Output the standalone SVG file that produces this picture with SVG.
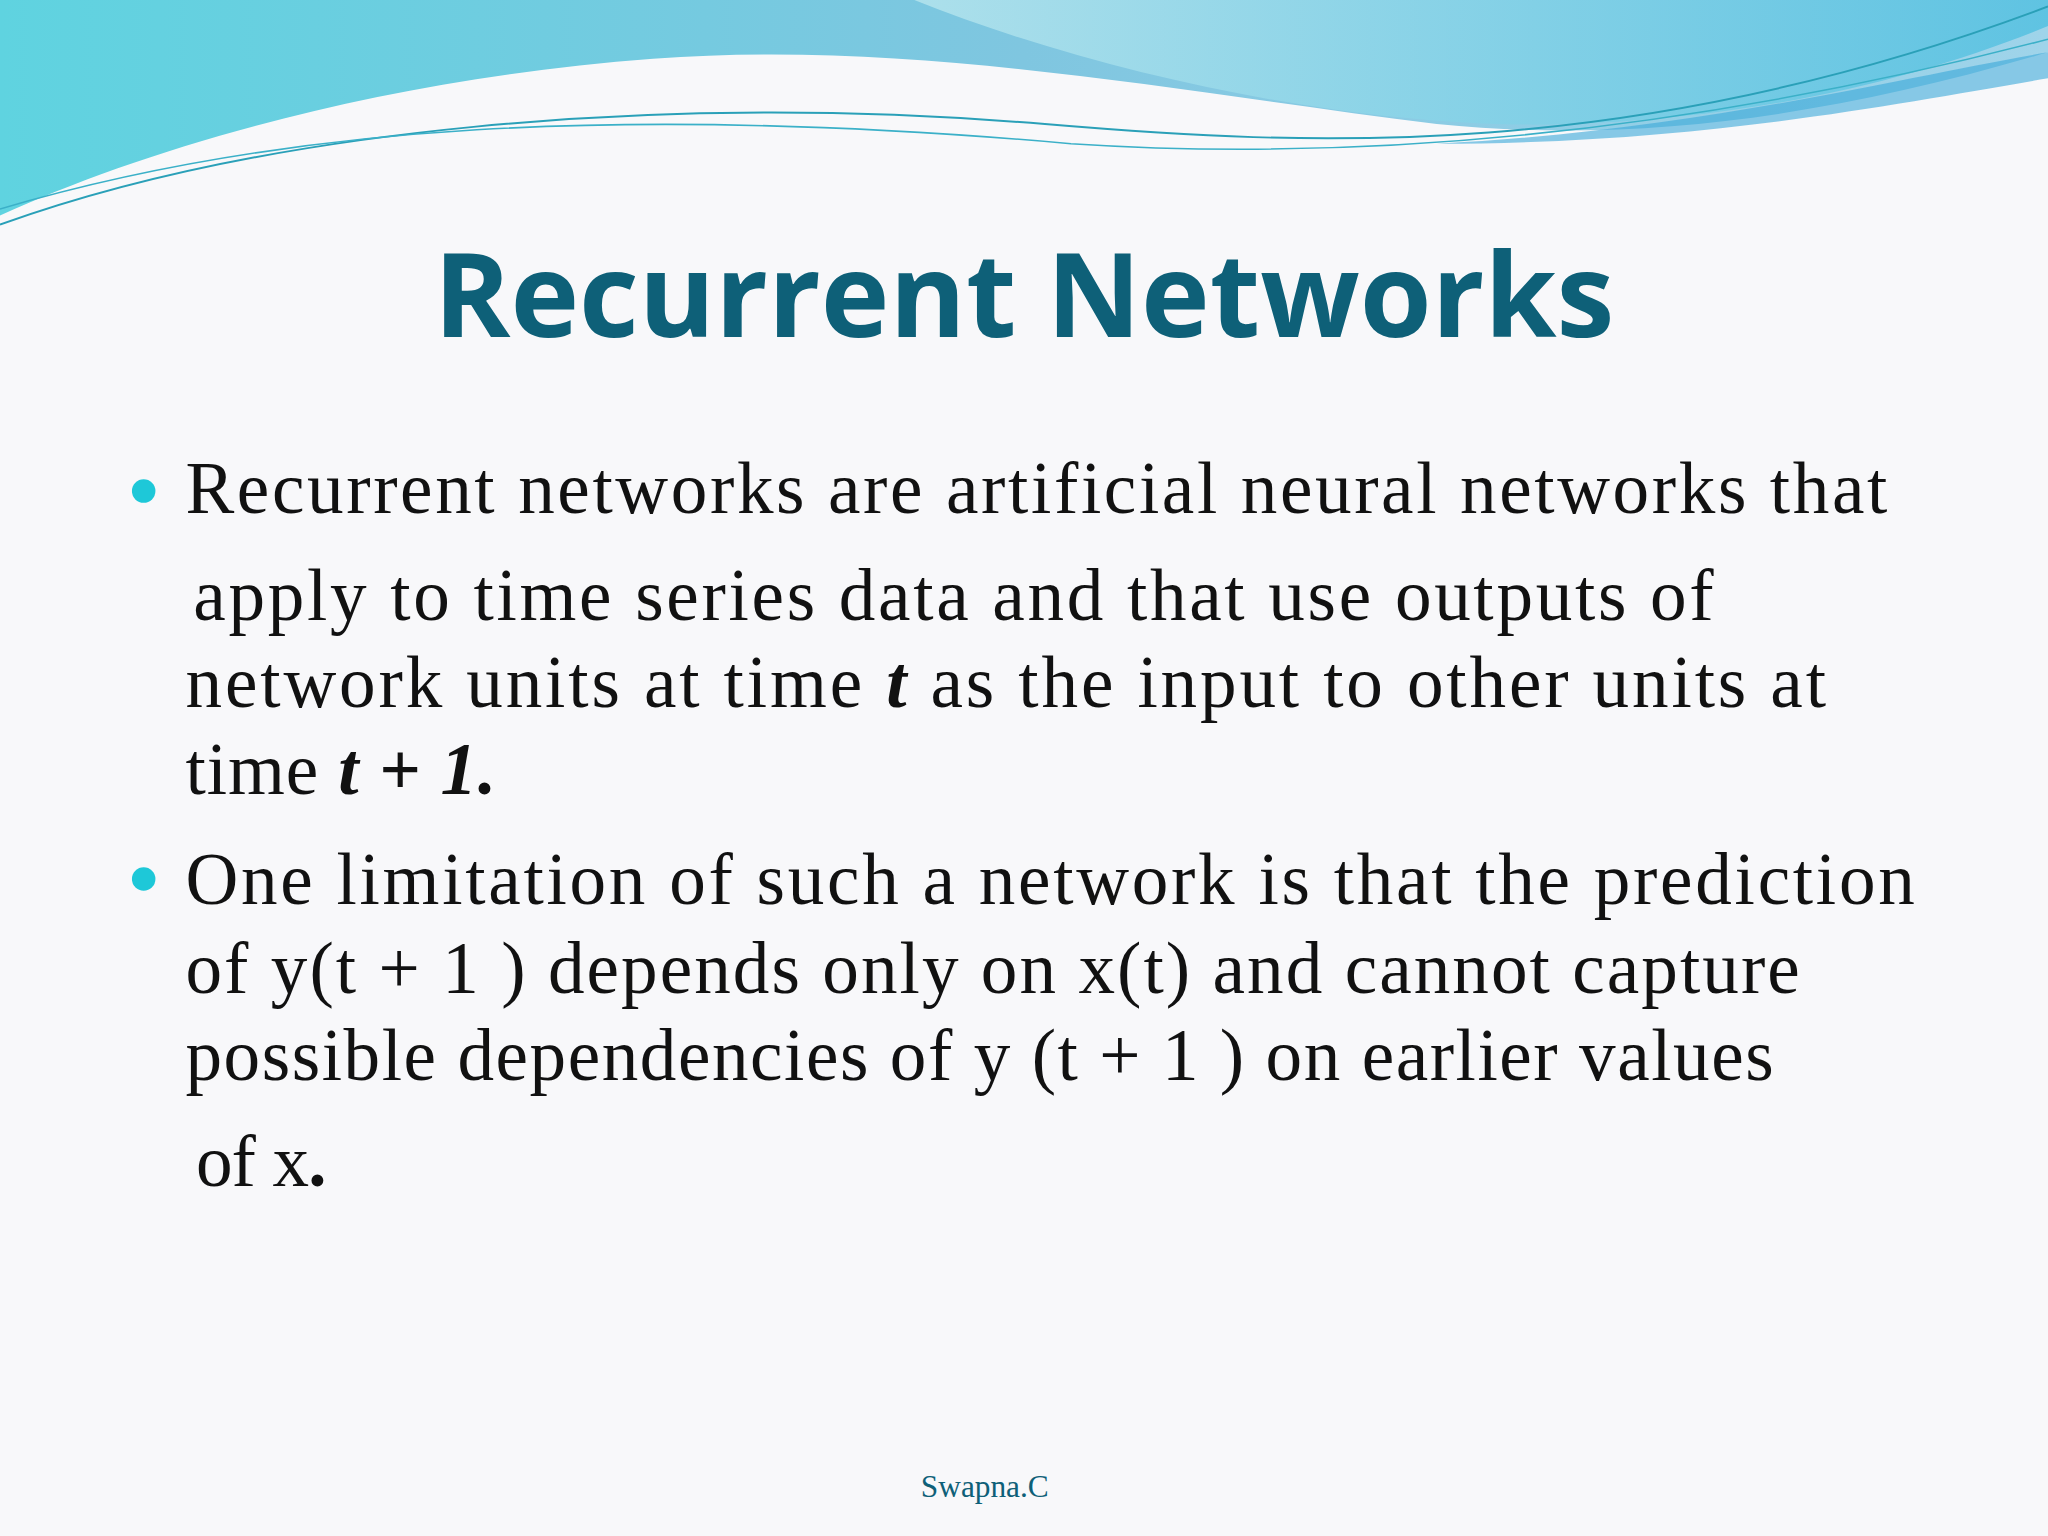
<svg xmlns="http://www.w3.org/2000/svg" width="2048" height="1536" viewBox="0 0 2048 1536">
<defs>
<linearGradient id="g1" x1="0" y1="0" x2="1" y2="0">
<stop offset="0" stop-color="#5fd3e0"/><stop offset="0.5" stop-color="#7fc6e0"/><stop offset="1" stop-color="#9fd4ea"/>
</linearGradient>
<linearGradient id="g2" x1="0" y1="0" x2="1" y2="0">
<stop offset="0" stop-color="#b8e6ee"/><stop offset="1" stop-color="#4fbfe0"/>
</linearGradient>
<style>
.b{font-family:"Liberation Serif",serif;font-size:56px;fill:#111}
.t{font-family:"Open Sans","Liberation Sans",sans-serif;font-weight:bold;font-size:89px;fill:#0e6078}
.d{fill:#1ec8d8}
</style>
</defs>
<rect width="2048" height="1536" fill="#f8f8fa"/>
<g transform="scale(1.30612)">
<g id="waves">
<path d="M0 0 H1568 V40 C1400 90 1250 110 1100 95 C900 70 700 30 500 45 C300 60 120 110 0 165 Z" fill="url(#g1)"/>
<path d="M700 0 C850 60 1050 100 1200 95 C1350 90 1470 60 1568 20 V0 Z" fill="url(#g2)" opacity="0.8"/>
<path d="M0 172 C200 100 500 70 800 95 C1000 112 1250 125 1568 5" fill="none" stroke="#2aa0b8" stroke-width="1.5"/>
<path d="M0 160 C220 95 480 80 820 110 C1050 125 1300 100 1568 30" fill="none" stroke="#3bb0c8" stroke-width="1.2"/>
<path d="M1100 110 C1300 100 1450 60 1568 40 V60 C1450 80 1300 110 1100 110 Z" fill="#3aa8d8" opacity="0.6"/>
</g>
<g id="title"><text class="t" x="784" y="258" text-anchor="middle">Recurrent Networks</text></g>
<g id="body">
<circle class="d" cx="110" cy="376" r="9"/>
<circle class="d" cx="110" cy="673" r="9"/>
<text class="b" x="142" y="393" textLength="1303" lengthAdjust="spacing">Recurrent networks are artificial neural networks that</text>
<text class="b" x="148" y="475" textLength="1164" lengthAdjust="spacing">apply to time series data and that use outputs of</text>
<text class="b" x="142" y="541" textLength="1256" lengthAdjust="spacing">network units at time <tspan font-weight="bold" font-style="italic">t</tspan> as the input to other units at</text>
<text class="b" x="142" y="608" textLength="238" lengthAdjust="spacing">time <tspan font-weight="bold" font-style="italic">t + 1.</tspan></text>
<text class="b" x="142" y="692" textLength="1324" lengthAdjust="spacing">One limitation of such a network is that the prediction</text>
<text class="b" x="142" y="760" textLength="1236" lengthAdjust="spacing">of y(t + 1 ) depends only on x(t) and cannot capture</text>
<text class="b" x="142" y="827" textLength="1216" lengthAdjust="spacing">possible dependencies of y (t + 1 ) on earlier values</text>
<text class="b" x="150" y="908" textLength="100" lengthAdjust="spacing">of x<tspan font-weight="bold">.</tspan></text>
</g>
<g id="footer"><text x="754" y="1146" text-anchor="middle" font-family="Liberation Serif,serif" font-size="24" fill="#0e6078">Swapna.C</text></g>
</g>
</svg>
